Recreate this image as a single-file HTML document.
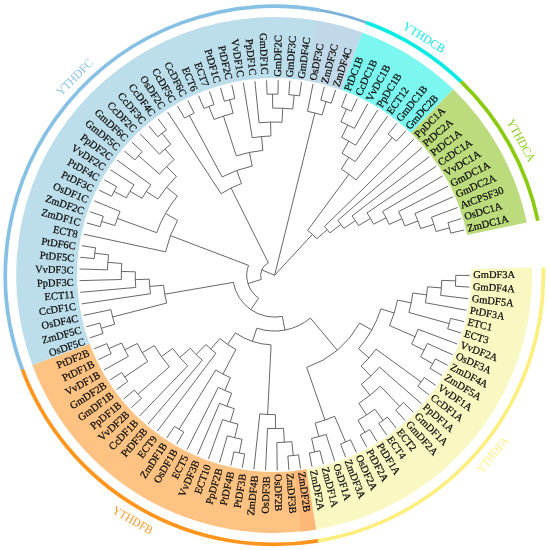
<!DOCTYPE html><html><head><meta charset="utf-8"><title>tree</title><style>html,body{margin:0;padding:0;background:#fff}svg{display:block}text{font-family:"Liberation Serif",serif}</style></head><body>
<svg width="550" height="550" viewBox="0 0 550 550">
<rect width="550" height="550" fill="#fff"/>
<path d="M532.09 267.41A258.0 258.0 0 0 1 316.10 529.58L306.21 469.48A197.1 197.1 0 0 0 471.21 269.20Z" fill="#faf8c2"/>
<path d="M316.10 529.58A258.0 258.0 0 0 1 32.44 365.09L89.51 343.83A197.1 197.1 0 0 0 306.21 469.48Z" fill="#fec282"/>
<path d="M32.44 365.09A258.0 258.0 0 0 1 362.16 32.46L341.39 89.71A197.1 197.1 0 0 0 89.51 343.83Z" fill="#bcddea"/>
<path d="M362.16 32.46A258.0 258.0 0 0 1 453.25 89.25L410.99 133.09A197.1 197.1 0 0 0 341.39 89.71Z" fill="#7cf7ef"/>
<path d="M453.25 89.25A258.0 258.0 0 0 1 526.80 222.49L467.17 234.88A197.1 197.1 0 0 0 410.99 133.09Z" fill="#bbdb7c"/>
<path d="M316.10 529.58A258.0 258.0 0 0 1 300.79 531.63L294.51 471.05A197.1 197.1 0 0 0 306.21 469.48Z" fill="#fcb779"/>
<path d="M317.40 20.64A258.0 258.0 0 0 1 362.16 32.46L341.39 89.71A197.1 197.1 0 0 0 307.21 80.68Z" fill="#c1d8e8"/>
<path d="M543.33 267.44A269.05 269.05 0 0 1 318.09 540.83" fill="none" stroke="#fcef80" stroke-width="3.7"/>
<path d="M318.09 540.83A269.05 269.05 0 0 1 22.29 369.30" fill="none" stroke="#ff951c" stroke-width="3.7"/>
<path d="M22.29 369.30A269.05 269.05 0 0 1 319.46 10.10" fill="none" stroke="#86c1e5" stroke-width="3.7"/>
<path d="M319.46 10.10A269.05 269.05 0 0 1 366.12 22.42" fill="none" stroke="#7bb0d8" stroke-width="2.7"/>
<path d="M366.12 22.42A269.05 269.05 0 0 1 461.12 81.64" fill="none" stroke="#08ebe4" stroke-width="3.7"/>
<path d="M461.12 81.64A269.05 269.05 0 0 1 537.82 220.59" fill="none" stroke="#8acb10" stroke-width="3.7"/>
<path d="M455.76 275.39A181.16 181.16 0 0 1 455.43 286.24M469.70 275.40L455.76 275.39M469.34 287.08L455.43 286.24M441.75 280.39A167.23 167.23 0 0 1 440.62 295.37M455.68 280.82L441.75 280.39M468.29 298.71L440.62 295.37M427.46 286.84A153.29 153.29 0 0 1 425.41 302.77M441.35 287.89L427.46 286.84M466.54 310.26L425.41 302.77M450.57 318.37A181.16 181.16 0 0 1 447.68 328.82M464.11 321.68L450.57 318.37M460.99 332.94L447.68 328.82M412.82 293.06A139.36 139.36 0 0 1 408.91 312.47M426.64 294.83L412.82 293.06M449.20 323.62L408.91 312.47M435.33 358.89A181.16 181.16 0 0 1 430.04 368.35M447.69 365.32L435.33 358.89M442.00 375.51L430.04 368.35M427.32 343.44A167.23 167.23 0 0 1 420.59 356.86M452.77 354.80L427.32 343.44M432.75 363.66L420.59 356.86M418.08 329.27A153.29 153.29 0 0 1 411.65 343.98M457.21 343.99L418.08 329.27M424.10 350.23L411.65 343.98M397.55 300.08A125.42 125.42 0 0 1 389.52 325.55M411.21 302.83L397.55 300.08M415.05 336.71L389.52 325.55M424.19 377.49A181.16 181.16 0 0 1 417.81 386.26M435.70 385.35L424.19 377.49M428.82 394.79L417.81 386.26M403.53 402.57A181.16 181.16 0 0 1 395.68 410.06M413.44 412.36L403.53 402.57M404.99 420.43L395.68 410.06M387.40 417.06A181.16 181.16 0 0 1 378.71 423.56M396.07 427.97L387.40 417.06M386.72 434.97L378.71 423.56M369.65 429.53A181.16 181.16 0 0 1 360.25 434.94M376.96 441.39L369.65 429.53M366.84 447.22L360.25 434.94M374.76 409.22A167.23 167.23 0 0 1 358.04 420.22M383.10 420.38L374.76 409.22M364.99 432.30L358.04 420.22M380.42 386.21A153.29 153.29 0 0 1 358.90 403.33M399.66 406.38L380.42 386.21M366.56 414.97L358.90 403.33M379.46 367.09A139.36 139.36 0 0 1 361.37 384.35M421.40 403.81L379.46 367.09M370.04 395.25L361.37 384.35M376.00 349.12A125.42 125.42 0 0 1 361.18 366.04M421.07 381.92L376.00 349.12M370.80 376.13L361.18 366.04M380.92 308.83A111.49 111.49 0 0 1 358.48 348.73M394.21 313.03L380.92 308.83M368.97 357.91L358.48 348.73M350.55 439.78A181.16 181.16 0 0 1 340.57 444.03M356.39 452.43L350.55 439.78M345.64 457.01L340.57 444.03M319.94 450.70A181.16 181.16 0 0 1 309.36 453.10M323.42 464.19L319.94 450.70M312.03 466.78L309.36 453.10M326.06 434.41A167.23 167.23 0 0 1 311.58 438.39M334.64 460.93L326.06 434.41M314.67 451.98L311.58 438.39M334.67 416.33A153.29 153.29 0 0 1 315.18 423.12M345.59 441.98L334.67 416.33M318.87 436.56L315.18 423.12M359.63 323.12A97.55 97.55 0 0 1 306.70 367.42M371.77 329.95L359.63 323.12M325.04 420.06L306.70 367.42M298.66 454.86A181.16 181.16 0 0 1 287.87 455.98M300.51 468.67L298.66 454.86M288.89 469.88L287.87 455.98M291.83 441.64A167.23 167.23 0 0 1 276.84 442.51M293.27 455.50L291.83 441.64M277.22 470.38L276.84 442.51M283.54 428.33A153.29 153.29 0 0 1 267.48 428.43M284.35 442.24L283.54 428.33M265.54 470.19L267.48 428.43M275.43 414.65A139.36 139.36 0 0 1 259.81 413.87M275.51 428.59L275.43 414.65M253.89 469.30L259.81 413.87M244.63 453.97A181.16 181.16 0 0 1 233.99 451.85M242.32 467.71L244.63 453.97M230.86 465.43L233.99 451.85M242.01 439.32A167.23 167.23 0 0 1 227.43 435.74M239.29 452.99L242.01 439.32M219.56 462.48L227.43 435.74M238.00 424.16A153.29 153.29 0 0 1 222.63 419.52M234.68 437.69L238.00 424.16M208.46 458.85L222.63 419.52M234.29 408.70A139.36 139.36 0 0 1 219.60 403.34M230.26 422.04L234.29 408.70M197.60 454.56L219.60 403.34M231.64 393.14A125.42 125.42 0 0 1 218.29 387.37M226.87 406.23L231.64 393.14M187.01 449.63L218.29 387.37M183.72 432.02A181.16 181.16 0 0 1 174.51 426.30M176.73 444.08L183.72 432.02M166.81 437.92L174.51 426.30M230.41 377.65A111.49 111.49 0 0 1 215.81 370.03M224.88 390.45L230.41 377.65M179.07 429.23L215.81 370.03M141.54 398.25A181.16 181.16 0 0 1 134.42 390.06M131.31 407.70L141.54 398.25M123.64 398.89L134.42 390.06M127.81 381.47A181.16 181.16 0 0 1 121.72 372.49M116.51 389.64L127.81 381.47M109.95 379.97L121.72 372.49M111.20 353.53A181.16 181.16 0 0 1 106.81 343.61M98.63 359.55L111.20 353.53M93.90 348.87L106.81 343.61M128.36 356.41A167.23 167.23 0 0 1 121.67 342.97M103.99 369.93L128.36 356.41M108.93 348.61L121.67 342.97M147.76 361.38A153.29 153.29 0 0 1 137.34 343.56M124.69 377.03L147.76 361.38M124.87 349.76L137.34 343.56M169.46 366.77A139.36 139.36 0 0 1 154.28 345.61M137.92 394.21L169.46 366.77M142.25 352.64L154.28 345.61M187.74 365.78A125.42 125.42 0 0 1 172.70 348.42M139.49 416.04L187.74 365.78M161.38 356.55L172.70 348.42M202.34 360.20A111.49 111.49 0 0 1 190.35 348.32M148.15 423.88L202.34 360.20M179.82 357.44L190.35 348.32M215.93 353.24A97.55 97.55 0 0 1 205.93 344.59M157.27 431.18L215.93 353.24M196.12 354.49L205.93 344.59M235.88 349.41A83.61 83.61 0 0 1 219.90 338.54M222.97 374.11L235.88 349.41M210.79 349.08L219.90 338.54M271.10 344.89A69.68 69.68 0 0 1 235.41 332.91M267.61 414.48L271.10 344.89M227.57 344.44L235.41 332.91M310.38 318.05A55.74 55.74 0 0 1 256.87 328.15M337.21 350.11L310.38 318.05M252.43 341.36L256.87 328.15M103.02 333.45A181.16 181.16 0 0 1 99.85 323.08M89.82 337.92L103.02 333.45M86.41 326.75L99.85 323.08M114.68 324.21A167.23 167.23 0 0 1 110.94 309.67M101.36 328.29L114.68 324.21M83.67 315.40L110.94 309.67M94.21 258.59A181.16 181.16 0 0 1 95.53 247.82M80.33 257.30L94.21 258.59M81.76 245.71L95.53 247.82M107.46 269.87A167.23 167.23 0 0 1 108.62 254.90M79.60 268.96L107.46 269.87M94.79 253.19L108.62 254.90M121.36 279.50A153.29 153.29 0 0 1 121.77 263.44M79.57 280.64L121.36 279.50M107.87 262.37L121.77 263.44M135.77 287.44A139.36 139.36 0 0 1 135.29 271.81M80.24 292.30L135.77 287.44M121.36 271.46L135.29 271.81M150.53 293.69A125.42 125.42 0 0 1 149.24 279.20M81.61 303.90L150.53 293.69M135.31 279.64L149.24 279.20M166.63 303.09A111.49 111.49 0 0 1 163.56 285.22M112.65 316.98L166.63 303.09M149.68 286.46L163.56 285.22M282.35 316.38A41.81 41.81 0 0 1 233.40 282.39M284.94 330.08L282.35 316.38M164.73 294.22L233.40 282.39M100.10 226.63A181.16 181.16 0 0 1 103.32 216.27M86.67 222.88L100.10 226.63M90.15 211.73L103.32 216.27M114.94 225.57A167.23 167.23 0 0 1 120.04 211.45M101.63 221.42L114.94 225.57M94.28 200.80L120.04 211.45M111.60 196.23A181.16 181.16 0 0 1 116.63 186.62M99.06 190.15L111.60 196.23M104.47 179.80L116.63 186.62M126.39 197.84A167.23 167.23 0 0 1 133.94 184.86M114.04 191.39L126.39 197.84M110.49 169.79L133.94 184.86M142.07 198.27A153.29 153.29 0 0 1 150.85 184.83M130.02 191.27L142.07 198.27M117.10 160.15L150.85 184.83M135.01 159.82A181.16 181.16 0 0 1 142.17 151.67M124.28 150.94L135.01 159.82M131.99 142.16L142.17 151.67M157.89 136.74A181.16 181.16 0 0 1 166.39 130.00M148.91 126.08L157.89 136.74M158.07 118.82L166.39 130.00M159.41 154.07A167.23 167.23 0 0 1 170.75 144.23M140.21 133.87L159.41 154.07M162.09 133.31L170.75 144.23M159.47 174.09A153.29 153.29 0 0 1 174.10 159.55M138.53 155.69L159.47 174.09M164.97 149.02L174.10 159.55M157.95 199.06A139.36 139.36 0 0 1 176.36 176.46M146.28 191.43L157.95 199.06M166.54 166.57L176.36 176.46M156.65 232.66A125.42 125.42 0 0 1 177.37 196.08M117.33 218.45L156.65 232.66M166.56 187.27L177.37 196.08M165.61 251.83A111.49 111.49 0 0 1 177.59 220.36M83.87 234.22L165.61 251.83M165.46 213.50L177.59 220.36M258.71 298.19A27.87 27.87 0 0 1 248.55 265.38M250.76 309.64L258.71 298.19M170.41 235.64L248.55 265.38M184.53 118.11A181.16 181.16 0 0 1 194.10 113.01M177.60 106.02L184.53 118.11M187.90 100.52L194.10 113.01M203.95 108.48A181.16 181.16 0 0 1 214.06 104.55M198.52 95.65L203.95 108.48M209.40 91.42L214.06 104.55M224.39 101.23A181.16 181.16 0 0 1 234.90 98.54M220.53 87.84L224.39 101.23M231.84 84.94L234.90 98.54M214.03 119.43A167.23 167.23 0 0 1 233.08 113.31M208.98 106.44L214.03 119.43M229.62 99.81L233.08 113.31M267.12 94.29A181.16 181.16 0 0 1 277.96 94.17M266.54 80.37L267.12 94.29M278.22 80.23L277.96 94.17M288.80 94.69A181.16 181.16 0 0 1 299.58 95.87M289.89 80.80L288.80 94.69M301.50 82.06L299.58 95.87M272.70 108.08A167.23 167.23 0 0 1 292.69 109.05M272.54 94.15L272.70 108.08M294.20 95.20L292.69 109.05M259.11 122.79A153.29 153.29 0 0 1 282.03 122.19M254.89 81.20L259.11 122.79M282.71 108.27L282.03 122.19M252.25 137.75A139.36 139.36 0 0 1 270.93 135.99M243.31 82.73L252.25 137.75M270.56 122.06L270.93 135.99M236.25 155.89A125.42 125.42 0 0 1 262.86 150.43M223.46 116.08L236.25 155.89M261.56 136.55L262.86 150.43M222.09 176.95A111.49 111.49 0 0 1 252.21 166.09M189.27 115.49L222.09 176.95M249.41 152.43L252.21 166.09M221.12 193.72A97.55 97.55 0 0 1 241.49 183.54M167.64 112.13L221.12 193.72M236.76 170.43L241.49 183.54M261.29 279.42A13.94 13.94 0 0 1 268.37 262.83M247.97 283.54L261.29 279.42M231.01 188.03L268.37 262.83M320.84 100.14A181.16 181.16 0 0 1 331.24 103.22M324.39 86.66L320.84 100.14M335.59 89.98L331.24 103.22M307.53 111.35A167.23 167.23 0 0 1 322.10 114.96M313.01 84.02L307.53 111.35M326.06 101.60L322.10 114.96M341.43 106.91A181.16 181.16 0 0 1 351.39 111.21M346.57 93.96L341.43 106.91M357.30 98.59L351.39 111.21M340.92 121.78A167.23 167.23 0 0 1 354.42 128.35M346.44 108.99L340.92 121.78M367.72 103.86L354.42 128.35M341.65 137.45A153.29 153.29 0 0 1 355.70 145.22M347.74 124.91L341.65 137.45M377.82 109.74L355.70 145.22M342.03 153.34A139.36 139.36 0 0 1 355.27 161.67M348.77 141.15L342.03 153.34M387.54 116.21L355.27 161.67M388.12 134.12A181.16 181.16 0 0 1 396.37 141.16M396.86 123.26L388.12 134.12M405.74 130.84L396.37 141.16M341.35 169.12A125.42 125.42 0 0 1 356.08 179.95M348.77 157.32L341.35 169.12M392.30 137.58L356.08 179.95M447.95 222.67A181.16 181.16 0 0 1 450.79 233.13M461.28 218.62L447.95 222.67M464.34 229.89L450.79 233.13M431.42 217.23A167.23 167.23 0 0 1 436.00 231.53M457.56 207.55L431.42 217.23M449.45 227.88L436.00 231.53M414.91 213.56A153.29 153.29 0 0 1 420.60 228.57M453.18 196.72L414.91 213.56M433.87 224.32L420.60 228.57M398.57 211.64A139.36 139.36 0 0 1 404.92 225.93M448.15 186.17L398.57 211.64M417.95 220.99L404.92 225.93M382.54 211.43A125.42 125.42 0 0 1 389.21 224.35M442.51 175.95L382.54 211.43M401.94 218.69L389.21 224.35M366.98 212.89A111.49 111.49 0 0 1 373.68 224.19M436.26 166.08L366.98 212.89M386.06 217.80L373.68 224.19M352.02 215.95A97.55 97.55 0 0 1 358.51 225.55M429.44 156.60L352.02 215.95M370.49 218.44L358.51 225.55M337.79 220.55A83.61 83.61 0 0 1 343.86 228.46M422.05 147.55L337.79 220.55M355.41 220.65L343.86 228.46M324.44 226.60A69.68 69.68 0 0 1 329.89 232.89M414.15 138.95L324.44 226.60M340.95 224.41L329.89 232.89M307.63 230.40A55.74 55.74 0 0 1 316.73 238.79M348.91 174.27L307.63 230.40M327.26 229.67L316.73 238.79M261.78 269.83L274.60 275.30M314.85 112.99L274.60 275.30M312.41 234.34L274.60 275.30" fill="none" stroke="#4c4c4c" stroke-width="0.85"/>
<g font-size="10.5" fill="#0a0a0a" stroke="#0a0a0a" stroke-width="0.22">
<text transform="translate(473.20 275.40) rotate(0.03)" dy="0.25em">GmDF3A</text>
<text transform="translate(472.84 287.29) rotate(3.46)" dy="0.25em">GmDF4A</text>
<text transform="translate(471.77 299.13) rotate(6.89)" dy="0.25em">GmDF5A</text>
<text transform="translate(469.99 310.89) rotate(10.32)" dy="0.25em">PtDF3A</text>
<text transform="translate(467.51 322.52) rotate(13.75)" dy="0.25em">ETC1</text>
<text transform="translate(464.33 333.97) rotate(17.18)" dy="0.25em">ECT3</text>
<text transform="translate(460.48 345.22) rotate(20.61)" dy="0.25em">VvDF2A</text>
<text transform="translate(455.97 356.22) rotate(24.05)" dy="0.25em">OsDF3A</text>
<text transform="translate(450.80 366.93) rotate(27.48)" dy="0.25em">ZmDF4A</text>
<text transform="translate(445.00 377.31) rotate(30.91)" dy="0.25em">ZmDF5A</text>
<text transform="translate(438.59 387.33) rotate(34.34)" dy="0.25em">VvDF1A</text>
<text transform="translate(431.59 396.94) rotate(37.77)" dy="0.25em">CcDF1A</text>
<text transform="translate(424.03 406.11) rotate(41.20)" dy="0.25em">PpDF1A</text>
<text transform="translate(415.93 414.82) rotate(44.63)" dy="0.25em">GmDF1A</text>
<text transform="translate(407.33 423.03) rotate(48.06)" dy="0.25em">GmDF2A</text>
<text transform="translate(398.25 430.71) rotate(51.49)" dy="0.25em">ECT2</text>
<text transform="translate(388.73 437.83) rotate(54.92)" dy="0.25em">ECT4</text>
<text transform="translate(378.80 444.37) rotate(58.35)" dy="0.25em">PtDF1A</text>
<text transform="translate(368.50 450.30) rotate(61.78)" dy="0.25em">PtDF2A</text>
<text transform="translate(357.86 455.61) rotate(65.22)" dy="0.25em">OsDF2A</text>
<text transform="translate(346.92 460.27) rotate(68.65)" dy="0.25em">ZmDF3A</text>
<text transform="translate(335.72 464.26) rotate(72.08)" dy="0.25em">OsDF1A</text>
<text transform="translate(324.30 467.58) rotate(75.51)" dy="0.25em">ZmDF1A</text>
<text transform="translate(312.70 470.21) rotate(78.94)" dy="0.25em">ZmDF2A</text>
<text transform="translate(300.97 472.14) rotate(82.37)" dy="0.25em">ZmDF2B</text>
<text transform="translate(289.15 473.37) rotate(85.80)" dy="0.25em">ZmDF3B</text>
<text transform="translate(277.27 473.88) rotate(89.23)" dy="0.25em">OsDF2B</text>
<text transform="translate(265.26 476.18) rotate(272.66)" text-anchor="end" dy="0.47em">OsDF3B</text>
<text transform="translate(253.26 475.26) rotate(276.09)" text-anchor="end" dy="0.47em">ZmDF4B</text>
<text transform="translate(241.33 473.63) rotate(279.52)" text-anchor="end" dy="0.47em">PtDF3B</text>
<text transform="translate(229.52 471.28) rotate(282.95)" text-anchor="end" dy="0.47em">PtDF4B</text>
<text transform="translate(217.87 468.23) rotate(286.38)" text-anchor="end" dy="0.47em">PpDF2B</text>
<text transform="translate(206.43 464.49) rotate(289.82)" text-anchor="end" dy="0.47em">ECT10</text>
<text transform="translate(195.23 460.07) rotate(293.25)" text-anchor="end" dy="0.47em">VvDF3B</text>
<text transform="translate(184.31 454.99) rotate(296.68)" text-anchor="end" dy="0.47em">ECT5</text>
<text transform="translate(173.72 449.27) rotate(300.11)" text-anchor="end" dy="0.47em">OsDF1B</text>
<text transform="translate(163.49 442.92) rotate(303.54)" text-anchor="end" dy="0.47em">ZmDF1B</text>
<text transform="translate(153.66 435.97) rotate(306.97)" text-anchor="end" dy="0.47em">ECT9</text>
<text transform="translate(144.26 428.44) rotate(310.40)" text-anchor="end" dy="0.47em">PtDF5B</text>
<text transform="translate(135.33 420.37) rotate(313.83)" text-anchor="end" dy="0.47em">CcDF1B</text>
<text transform="translate(126.90 411.78) rotate(317.26)" text-anchor="end" dy="0.47em">VvDF2B</text>
<text transform="translate(119.00 402.69) rotate(320.69)" text-anchor="end" dy="0.47em">PpDF1B</text>
<text transform="translate(111.65 393.15) rotate(324.12)" text-anchor="end" dy="0.47em">GmDF1B</text>
<text transform="translate(104.89 383.19) rotate(327.55)" text-anchor="end" dy="0.47em">GmDF2B</text>
<text transform="translate(98.74 372.84) rotate(330.99)" text-anchor="end" dy="0.47em">VvDF1B</text>
<text transform="translate(93.22 362.14) rotate(334.42)" text-anchor="end" dy="0.47em">PtDF1B</text>
<text transform="translate(88.35 351.13) rotate(337.85)" text-anchor="end" dy="0.47em">PtDF2B</text>
<text transform="translate(84.14 339.85) rotate(341.28)" text-anchor="end" dy="0.47em">OsDF5C</text>
<text transform="translate(80.62 328.34) rotate(344.71)" text-anchor="end" dy="0.47em">ZmDF5C</text>
<text transform="translate(77.79 316.63) rotate(348.14)" text-anchor="end" dy="0.47em">OsDF4C</text>
<text transform="translate(75.67 304.78) rotate(351.57)" text-anchor="end" dy="0.47em">CcDF1C</text>
<text transform="translate(74.27 292.82) rotate(355.00)" text-anchor="end" dy="0.47em">ECT11</text>
<text transform="translate(73.58 280.80) rotate(358.43)" text-anchor="end" dy="0.47em">PpDF3C</text>
<text transform="translate(73.61 268.76) rotate(361.86)" text-anchor="end" dy="0.47em">VvDF3C</text>
<text transform="translate(74.36 256.75) rotate(365.29)" text-anchor="end" dy="0.47em">PtDF5C</text>
<text transform="translate(75.83 244.80) rotate(368.72)" text-anchor="end" dy="0.47em">PtDF6C</text>
<text transform="translate(78.01 232.96) rotate(372.15)" text-anchor="end" dy="0.47em">ECT8</text>
<text transform="translate(80.89 221.27) rotate(375.59)" text-anchor="end" dy="0.47em">ZmDF1C</text>
<text transform="translate(84.47 209.77) rotate(379.02)" text-anchor="end" dy="0.47em">ZmDF2C</text>
<text transform="translate(88.74 198.51) rotate(382.45)" text-anchor="end" dy="0.47em">OsDF1C</text>
<text transform="translate(93.67 187.53) rotate(385.88)" text-anchor="end" dy="0.47em">PtDF3C</text>
<text transform="translate(99.24 176.86) rotate(389.31)" text-anchor="end" dy="0.47em">PtDF4C</text>
<text transform="translate(105.45 166.54) rotate(392.74)" text-anchor="end" dy="0.47em">VvDF2C</text>
<text transform="translate(112.26 156.61) rotate(396.17)" text-anchor="end" dy="0.47em">PpDF2C</text>
<text transform="translate(119.65 147.11) rotate(399.60)" text-anchor="end" dy="0.47em">GmDF5C</text>
<text transform="translate(127.60 138.07) rotate(403.03)" text-anchor="end" dy="0.47em">GmDF6C</text>
<text transform="translate(136.08 129.52) rotate(406.46)" text-anchor="end" dy="0.47em">CcDF2C</text>
<text transform="translate(145.05 121.49) rotate(409.89)" text-anchor="end" dy="0.47em">CcDF3C</text>
<text transform="translate(154.49 114.01) rotate(413.32)" text-anchor="end" dy="0.47em">CcDF4C</text>
<text transform="translate(164.35 107.11) rotate(416.76)" text-anchor="end" dy="0.47em">OsDF2C</text>
<text transform="translate(174.62 100.82) rotate(420.19)" text-anchor="end" dy="0.47em">CcDF5C</text>
<text transform="translate(185.24 95.15) rotate(423.62)" text-anchor="end" dy="0.47em">CcDF6C</text>
<text transform="translate(196.18 90.12) rotate(427.05)" text-anchor="end" dy="0.47em">ECT6</text>
<text transform="translate(207.40 85.76) rotate(430.48)" text-anchor="end" dy="0.47em">ECT7</text>
<text transform="translate(218.86 82.08) rotate(433.91)" text-anchor="end" dy="0.47em">PtDF1C</text>
<text transform="translate(230.53 79.09) rotate(437.34)" text-anchor="end" dy="0.47em">PtDF2C</text>
<text transform="translate(242.35 76.80) rotate(440.77)" text-anchor="end" dy="0.47em">VvDF1C</text>
<text transform="translate(254.28 75.23) rotate(444.20)" text-anchor="end" dy="0.47em">PpDF1C</text>
<text transform="translate(266.29 74.37) rotate(447.63)" text-anchor="end" dy="0.47em">GmDF1C</text>
<text transform="translate(278.29 76.73) rotate(271.06)" dy="0.25em">GmDF2C</text>
<text transform="translate(290.16 77.31) rotate(274.49)" dy="0.25em">GmDF3C</text>
<text transform="translate(301.98 78.60) rotate(277.92)" dy="0.25em">GmDF4C</text>
<text transform="translate(313.70 80.59) rotate(281.36)" dy="0.25em">OsDF3C</text>
<text transform="translate(325.29 83.28) rotate(284.79)" dy="0.25em">ZmDF3C</text>
<text transform="translate(336.69 86.65) rotate(288.22)" dy="0.25em">ZmDF4C</text>
<text transform="translate(347.86 90.71) rotate(291.65)" dy="0.25em">PtDC1B</text>
<text transform="translate(358.78 95.42) rotate(295.08)" dy="0.25em">CcDC1B</text>
<text transform="translate(369.39 100.78) rotate(298.51)" dy="0.25em">VvDC1B</text>
<text transform="translate(379.67 106.77) rotate(301.94)" dy="0.25em">PpDC1B</text>
<text transform="translate(389.56 113.36) rotate(305.37)" dy="0.25em">ECT12</text>
<text transform="translate(399.05 120.53) rotate(308.80)" dy="0.25em">GmDC1B</text>
<text transform="translate(408.09 128.25) rotate(312.23)" dy="0.25em">GmDC2B</text>
<text transform="translate(416.65 136.50) rotate(315.66)" dy="0.25em">PpDC1A</text>
<text transform="translate(424.70 145.25) rotate(319.09)" dy="0.25em">PtDC2A</text>
<text transform="translate(432.21 154.47) rotate(322.53)" dy="0.25em">PtDC1A</text>
<text transform="translate(439.16 164.12) rotate(325.96)" dy="0.25em">CcDC1A</text>
<text transform="translate(445.52 174.16) rotate(329.39)" dy="0.25em">VvDC1A</text>
<text transform="translate(451.27 184.57) rotate(332.82)" dy="0.25em">GmDC1A</text>
<text transform="translate(456.38 195.31) rotate(336.25)" dy="0.25em">GmDC2A</text>
<text transform="translate(460.84 206.33) rotate(339.68)" dy="0.25em">AtCPSF30</text>
<text transform="translate(464.63 217.60) rotate(343.11)" dy="0.25em">OsDC1A</text>
<text transform="translate(467.75 229.08) rotate(346.54)" dy="0.25em">ZmDC1A</text>
</g>
<text transform="translate(492.48 454.80) rotate(-50.55)" text-anchor="middle" dy="0.33em" font-size="12" textLength="42.5" lengthAdjust="spacingAndGlyphs" fill="#fcef80">YTHDFA</text>
<text transform="translate(132.64 520.12) rotate(30.08)" text-anchor="middle" dy="0.33em" font-size="12" textLength="44.5" lengthAdjust="spacingAndGlyphs" fill="#ff951c">YTHDFB</text>
<text transform="translate(74.67 77.13) rotate(-45.28)" text-anchor="middle" dy="0.33em" font-size="12" textLength="46.4" lengthAdjust="spacingAndGlyphs" fill="#86c1e5">YTHDFC</text>
<text transform="translate(424.12 37.38) rotate(32.12)" text-anchor="middle" dy="0.33em" font-size="12" textLength="47" lengthAdjust="spacingAndGlyphs" fill="#08ebe4">YTHDCB</text>
<text transform="translate(521.10 140.39) rotate(61.28)" text-anchor="middle" dy="0.33em" font-size="12" textLength="46.5" lengthAdjust="spacingAndGlyphs" fill="#8acb10">YTHDCA</text>
</svg></body></html>
